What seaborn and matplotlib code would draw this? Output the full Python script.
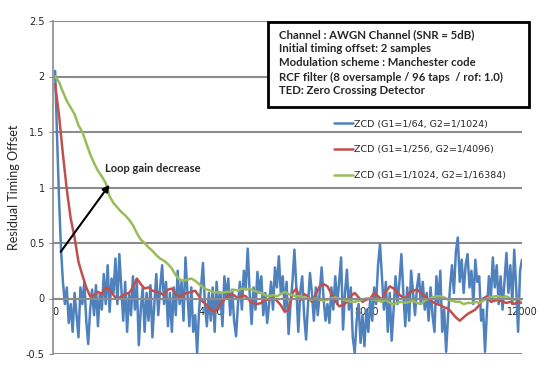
import numpy as np
import pandas as pd
import seaborn as sns
import matplotlib.pyplot as plt
from matplotlib.patches import Rectangle

# sample index grids
x_blue = np.arange(0, 12001, 50)
x_slow = np.arange(0, 12001, 100)

# ZCD (G1=1/64, G2=1/1024), one value every 50 samples
blue = [
    2.05, 1.45, 0.90, 0.45, 0.15, -0.05, 0.10, -0.22, -0.05, -0.30,
    0.05, -0.15, -0.35, 0.10, -0.05, 0.15, -0.20, -0.41, -0.10, 0.08,
    -0.15, 0.12, -0.25, 0.05, -0.10, 0.22, -0.05, 0.30, -0.12, 0.18,
    0.05, 0.36, -0.05, 0.40, 0.10, -0.20, 0.15, -0.30, 0.05, -0.15,
    0.20, -0.10, 0.15, -0.42, -0.10, 0.10, -0.30, 0.05, -0.20, 0.12,
    -0.35, -0.05, 0.22, -0.15, 0.10, 0.30, -0.05, 0.15, -0.25, 0.05,
    -0.30, 0.10, -0.15, 0.25, -0.05, 0.15, -0.20, 0.37, 0.05, -0.25,
    0.10, -0.30, -0.15, -0.49, -0.10, 0.10, 0.32, -0.05, -0.25, 0.05,
    -0.20, 0.10, -0.30, 0.15, -0.10, 0.05, -0.25, 0.20, 0.00, 0.18,
    -0.15, 0.08, -0.20, -0.34, -0.05, 0.15, -0.10, 0.25, 0.10, 0.45,
    0.05, -0.23, 0.10, -0.10, 0.24, 0.05, 0.20, -0.15, 0.05, -0.22,
    -0.05, 0.15, -0.10, 0.28, 0.10, 0.38, 0.05, 0.20, -0.10, 0.15,
    -0.32, -0.05, 0.15, 0.44, 0.10, -0.30, 0.05, 0.20, -0.15, -0.37,
    -0.05, 0.23, 0.05, -0.20, 0.10, -0.15, 0.05, 0.28, 0.00, -0.20,
    -0.05, -0.22, 0.10, -0.10, 0.20, -0.05, 0.15, 0.37, -0.28, 0.05,
    0.26, -0.10, 0.10, -0.35, -0.49, -0.20, -0.05, -0.40, -0.15, -0.43,
    -0.10, -0.30, 0.00, -0.20, 0.10, -0.05, 0.30, 0.49, 0.20, -0.10,
    0.15, -0.30, 0.05, -0.38, -0.10, 0.20, -0.05, 0.15, 0.40, 0.05,
    -0.25, 0.10, -0.20, 0.25, 0.05, -0.15, 0.10, 0.22, -0.05, 0.15,
    -0.10, 0.05, -0.20, 0.10, -0.15, -0.30, 0.20, -0.05, 0.25, -0.30,
    -0.10, -0.48, -0.15, 0.10, 0.30, 0.05, 0.42, 0.55, 0.15, 0.35,
    0.05, 0.30, 0.40, 0.10, 0.25, -0.05, 0.35, 0.15, 0.20, -0.20,
    -0.10, -0.48, -0.10, 0.20, 0.00, 0.37, 0.10, 0.30, -0.05, 0.20,
    -0.10, 0.15, 0.41, 0.05, 0.30, -0.05, 0.44, 0.10, -0.30, 0.25,
    0.35,
]

# ZCD (G1=1/256, G2=1/4096), one value every 100 samples
red = [
    1.93, 1.65, 1.30, 0.98, 0.72, 0.55, 0.33, 0.21, 0.10, 0.02,
    0.03, 0.06, 0.04, 0.10, 0.08, 0.03, -0.01, 0.02, 0.04, 0.05,
    0.10, 0.18, 0.13, 0.09, 0.10, 0.07, 0.06, 0.05, 0.03, 0.08,
    0.09, 0.04, 0.01, 0.04, 0.05, 0.06, 0.07, 0.02, -0.03, -0.06,
    -0.10, -0.12, -0.07, -0.03, 0.01, 0.04, 0.03, 0.00, 0.03, 0.02,
    -0.02, -0.04, -0.05, -0.04, -0.01, -0.01, 0.01, -0.02, -0.06, -0.12,
    -0.10, 0.05, 0.09, -0.02, 0.04, 0.02, -0.03, 0.04, 0.11, 0.13,
    0.11, 0.04, -0.02, -0.07, -0.06, -0.03, 0.02, 0.05, 0.01, -0.03,
    -0.01, 0.00, 0.05, 0.02, -0.01, 0.06, 0.11, 0.09, 0.05, 0.02,
    0.00, 0.05, 0.07, 0.08, 0.05, 0.02, 0.00, -0.03, -0.05, -0.06,
    -0.08, -0.09, -0.13, -0.17, -0.20, -0.17, -0.14, -0.12, -0.10, -0.06,
    0.00, 0.02, -0.03, -0.02, -0.01, -0.03, -0.04, -0.03, -0.05, -0.03,
    -0.04,
]

# ZCD (G1=1/1024, G2=1/16384), one value every 100 samples
green = [
    2.00, 1.95, 1.86, 1.78, 1.72, 1.66, 1.56, 1.50, 1.40, 1.30,
    1.22, 1.15, 1.10, 1.04, 0.92, 0.86, 0.82, 0.78, 0.75, 0.71,
    0.66, 0.59, 0.53, 0.50, 0.46, 0.43, 0.39, 0.36, 0.34, 0.31,
    0.27, 0.21, 0.17, 0.16, 0.17, 0.18, 0.16, 0.13, 0.10, 0.08,
    0.07, 0.05, 0.06, 0.05, 0.06, 0.06, 0.08, 0.07, 0.09, 0.08,
    0.09, 0.07, 0.06, 0.05, 0.03, 0.02, 0.03, 0.02, 0.04, 0.06,
    0.04, 0.03, 0.02, 0.02, 0.01, 0.00, -0.01, 0.00, -0.01, -0.02,
    -0.01, 0.00, 0.01, 0.00, -0.01, -0.02, -0.03, -0.03, -0.02, -0.01,
    0.00, 0.00, -0.01, -0.02, -0.03, -0.01, -0.04, -0.05, -0.04, -0.03,
    -0.04, -0.03, -0.02, -0.04, -0.05, -0.02, 0.00, 0.01, 0.02, 0.02,
    0.01, -0.01, -0.02, -0.03, -0.03, -0.05, -0.04, -0.04, -0.03, -0.04,
    -0.02, 0.00, 0.01, 0.02, 0.02, 0.01, 0.02, 0.00, -0.01, 0.00,
    -0.01,
]

labels = ["ZCD (G1=1/64, G2=1/1024)", "ZCD (G1=1/256, G2=1/4096)",
          "ZCD (G1=1/1024, G2=1/16384)"]
colors = ["#4F81BD", "#C0504D", "#9BBB59"]
info_lines = [
    "Channel : AWGN Channel (SNR = 5dB)",
    "Initial timing offset: 2 samples",
    "Modulation scheme : Manchester code",
    "RCF filter (8 oversample / 96 taps  / rof: 1.0)",
    "TED: Zero Crossing Detector",
]

sns.set_style("white")
plt.rcParams['font.family'] = ['DejaVu Sans']

W, H = 549, 379
fig = plt.figure(figsize=(W / 100, H / 100), dpi=100)
ax = fig.add_axes([53 / W, (H - 354) / H, (522 - 53) / W, (354 - 21) / H])

sns.lineplot(x=x_blue, y=blue, ax=ax, color=colors[0], linewidth=1.8, label=labels[0])
sns.lineplot(x=x_slow, y=red, ax=ax, color=colors[1], linewidth=1.8, label=labels[1])
sns.lineplot(x=x_slow, y=green, ax=ax, color=colors[2], linewidth=1.8, label=labels[2])

ax.set_xlim(-55, 12000)
ax.set_ylim(-0.5, 2.5)
ax.set_yticks([-0.5, 0, 0.5, 1, 1.5, 2, 2.5])
ax.set_yticklabels(["-0.5", "0", "0.5", "1", "1.5", "2", "2.5"])
ax.set_xticks([0, 4000, 8000, 12000])
ax.set_xticklabels(["0", "4000", "8000", "12000"])
ax.grid(axis='y', color='#8C8C8C', linewidth=1.5)
ax.set_axisbelow(True)

for s in ['top', 'right']:
    ax.spines[s].set_visible(False)
ax.spines['left'].set_color('#8C8C8C')
ax.spines['left'].set_linewidth(1.2)
ax.spines['bottom'].set_position(('data', 0))
ax.spines['bottom'].set_color('#8C8C8C')
ax.spines['bottom'].set_linewidth(1.5)
ax.tick_params(axis='y', length=3, color='#8C8C8C', labelsize=7, pad=3, left=True)
ax.tick_params(axis='x', length=0, labelsize=7, pad=6)

ax.set_ylabel("Residual Timing Offset", family='Lato', fontsize=9, labelpad=4)

ax.legend(loc='upper left', bbox_to_anchor=((330 - 53) / (522 - 53), (354 - 116) / (354 - 21)),
          frameon=False, fontsize=6.8, handlelength=2.0, handletextpad=0.1,
          labelspacing=1.75, borderaxespad=0)

ax.annotate("", xy=(1440, 1.045), xytext=(100, 0.40),
            arrowprops=dict(arrowstyle='-|>', color='black', lw=1.5, mutation_scale=10))
ax.text(1290, 1.17, "Loop gain decrease", family='Lato', fontweight='bold',
        fontsize=8, ha='left', va='center')

fig.patches.append(Rectangle((268 / W, (H - 107) / H), (529 - 268) / W, (107 - 22) / H,
                             transform=fig.transFigure, fill=True, facecolor='white',
                             edgecolor='black', linewidth=2, zorder=5))
for i, line in enumerate(info_lines):
    fig.text(279 / W, (H - 35 - 14 * i) / H, line, family='Lato', fontweight='bold',
             fontsize=8.2, ha='left', va='center', zorder=6)

fig.savefig("out.png", dpi=100)
